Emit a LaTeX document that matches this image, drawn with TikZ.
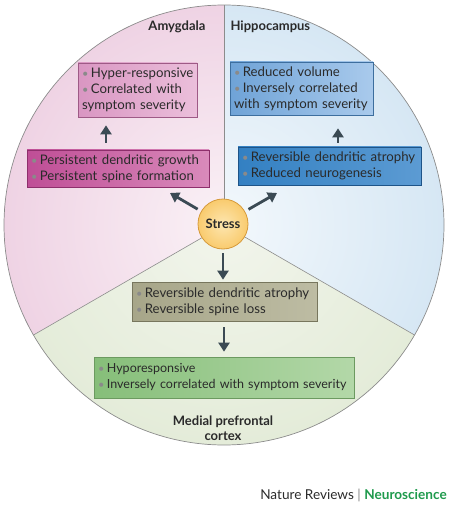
\documentclass[tikz,border=0pt]{standalone}
\usepackage{fontspec}
\setmainfont{Lato}
\usetikzlibrary{arrows.meta,shapes.geometric}
\hyphenpenalty=10000
\definecolor{pinkbg}{HTML}{EFD3E4}
\definecolor{pinkin}{HTML}{FAF1F6}
\definecolor{bluebg}{HTML}{D6E7F4}
\definecolor{bluein}{HTML}{F3F8FC}
\definecolor{greenbg}{HTML}{E4ECD9}
\definecolor{greenin}{HTML}{F2F5EC}
\definecolor{rim}{HTML}{8C8C8C}
\definecolor{arrcol}{HTML}{3B4A54}
\definecolor{txt}{HTML}{2A2A2A}
\definecolor{bul}{HTML}{8A8A8A}
\definecolor{amyA}{HTML}{D996C2}
\definecolor{amyB}{HTML}{EBBFDB}
\definecolor{amyE}{HTML}{9E5A86}
\definecolor{amyC}{HTML}{BF4E96}
\definecolor{amyD}{HTML}{D98ABB}
\definecolor{amyF}{HTML}{8E2F6C}
\definecolor{hipA}{HTML}{6FA3D7}
\definecolor{hipB}{HTML}{A9CAEC}
\definecolor{hipE}{HTML}{3D6E9E}
\definecolor{hipC}{HTML}{3380C2}
\definecolor{hipD}{HTML}{5C9BD3}
\definecolor{hipF}{HTML}{1E5488}
\definecolor{pfcA}{HTML}{A7A689}
\definecolor{pfcB}{HTML}{BDBCA3}
\definecolor{pfcE}{HTML}{77765D}
\definecolor{pfcC}{HTML}{86BE79}
\definecolor{pfcD}{HTML}{B3D8A8}
\definecolor{pfcF}{HTML}{6C9A60}
\definecolor{strA}{HTML}{FDE6B0}
\definecolor{strB}{HTML}{F9CB6E}
\definecolor{strE}{HTML}{D69A3A}
\definecolor{nrgreen}{HTML}{1E9A4C}
\newcommand{\bx}{{\color{bul}\fontsize{11}{11}\selectfont •}\hspace{2.5pt}}
\tikzset{
  boxnode/.style={rectangle, draw, line width=0.7pt, align=left, inner xsep=4pt, inner ysep=2pt,
     font=\fontsize{13.2}{16}\selectfont, text=txt},
  arr/.style={line width=2.8pt, draw=arrcol, -{Triangle[length=9pt,width=11pt]}},
  region/.style={font=\bfseries\fontsize{13}{15.5}\selectfont, text=txt}
}
\begin{document}
\begin{tikzpicture}[x=1pt,y=-1pt]
\useasboundingbox (0,0) rectangle (450,505);
\coordinate (C) at (224,225);
% sectors
\begin{scope}
\clip (C) -- ++(270:220) arc (270:150:220) -- cycle;
\shade[inner color=pinkin, outer color=pinkbg] (C) circle (220);
\end{scope}
\begin{scope}
\clip (C) -- ++(-90:220) arc (-90:30:220) -- cycle;
\shade[inner color=bluein, outer color=bluebg] (C) circle (220);
\end{scope}
\begin{scope}
\clip (C) -- ++(30:220) arc (30:150:220) -- cycle;
\shade[inner color=greenin, outer color=greenbg] (C) circle (220);
\end{scope}
\draw[rim, line width=0.7pt] (C) circle (220);
\draw[rim, line width=0.6pt] (C) -- ++(270:220);
\draw[rim, line width=0.6pt] (C) -- ++(150:220);
\draw[rim, line width=0.6pt] (C) -- ++(30:220);

% region labels
\node[region, anchor=base east] (lamy) at (209,31) {Amygdala};
\node[region, anchor=base west] (lhip) at (227,31) {Hippocampus};
\node[region, align=center, anchor=center] (lpfc) at (223,428) {Medial prefrontal\\cortex};

% boxes
\node[boxnode, draw=amyE, left color=amyA, right color=amyB, text width=111pt, minimum height=54pt] (amyup) at (137.5,90)
  {\makebox[0pt][l]{\bx Hyper-responsive}\\\bx Correlated with\\symptom severity};
\node[boxnode, draw=amyF, left color=amyC, right color=amyD, text width=174pt, minimum height=37pt] (amylow) at (118,168.5)
  {\bx Persistent dendritic growth\\\bx Persistent spine formation};
\node[boxnode, draw=hipE, left color=hipA, right color=hipB, text width=135pt, minimum height=53pt] (hipup) at (301.5,88.5)
  {\bx Reduced volume\\\bx Inversely correlated\\with symptom severity};
\node[boxnode, draw=hipF, left color=hipC, right color=hipD, text width=175pt, minimum height=38pt] (hiplow) at (329.5,166)
  {\bx Reversible dendritic atrophy\\\bx Reduced neurogenesis};
\node[boxnode, draw=pfcE, left color=pfcA, right color=pfcB, text width=177pt, minimum height=39pt] (pfcup) at (224.5,301.5)
  {\bx Reversible dendritic atrophy\\\bx Reversible spine loss};
\node[boxnode, draw=pfcF, left color=pfcC, right color=pfcD, text width=252pt, minimum height=41pt,
  font=\fontsize{12.5}{16}\selectfont] (pfclow) at (224,377.5)
  {\bx Hyporesponsive\\\bx Inversely correlated with symptom severity};

% stress
\node[circle, draw=strE, line width=0.8pt, inner color=strA, outer color=strB, minimum size=50pt, inner sep=0pt,
  font=\bfseries\fontsize{13}{15}\selectfont, text=txt] (stress) at (223,224) {Stress};

% arrows
\coordinate (tipamy) at (170,193);
\coordinate (tiphip) at (277,193);
\draw[arr, shorten <=4pt] (stress) -- (tipamy);
\draw[arr, shorten <=4pt] (stress) -- (tiphip);
\draw[arr, shorten <=4pt, shorten >=2pt] (stress) -- (stress |- pfcup.north);
\draw[arr, shorten <=6pt, shorten >=5pt] ([xshift=-0.5pt]pfcup.south) -- ([xshift=-0.5pt]pfcup.south |- pfclow.north);
\draw[arr, shorten <=7pt, shorten >=8pt] ([xshift=-12pt]amylow.north) -- ([xshift=-12pt]amylow.north |- amyup.south);
\draw[arr, shorten <=4pt, shorten >=13pt] ([xshift=8.5pt]hiplow.north) -- ([xshift=8.5pt]hiplow.north |- hipup.south);

% footer
\node[anchor=base east, font=\fontsize{13.6}{15}\selectfont, text=txt, inner sep=0pt] (footer) at (447,499)
  {Nature Reviews {\color{bul}|} {\bfseries\color{nrgreen}Neuroscience}};
\end{tikzpicture}
\end{document}
